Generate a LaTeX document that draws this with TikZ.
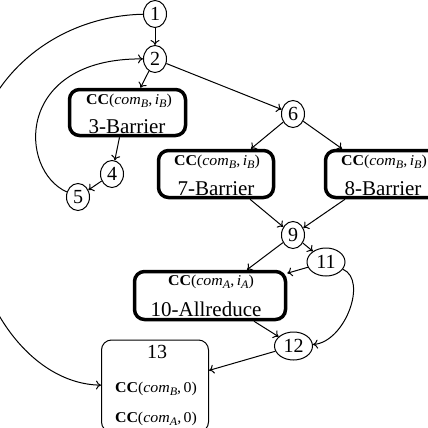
\documentclass[tikz,border=0pt]{standalone}
\usepackage{fontspec}
\setmainfont{Liberation Serif}
\newfontfamily\wideserif[FakeStretch=1.06]{Liberation Serif}
\usetikzlibrary{calc,shapes.geometric,arrows.meta}
\newcommand{\sbs}[1]{\raisebox{-0.45ex}{\fontsize{11.5}{12}\selectfont\textit{#1}}}
\newcommand{\ccsub}[2]{{\bfseries CC}(\textit{com}\sbs{#1},\,#2)}
\tikzset{
  state/.style={ellipse, draw, line width=1pt, inner sep=1pt, minimum width=23pt, minimum height=27pt, font=\fontsize{20}{20}\selectfont},
  wstate/.style={state, minimum width=38pt, minimum height=28pt},
  opbox/.style={draw, line width=3.5pt, rounded corners=10pt, inner sep=0pt},
  endbox/.style={draw, line width=1pt, rounded corners=10pt, inner sep=0pt},
  smalltxt/.style={anchor=base, inner sep=0pt, font=\wideserif\fontsize{15}{15}\selectfont},
  bigtxt/.style={anchor=base, inner sep=0pt, font=\fontsize{21}{21}\selectfont},
  numtxt/.style={anchor=base, inner sep=0pt, font=\fontsize{20}{20}\selectfont},
  conn/.style={-{To[length=5pt,width=9pt]}, line width=1pt},
}
\begin{document}
\begin{tikzpicture}[x=1pt,y=-1pt]
\useasboundingbox (0,0) rectangle (428,428);
\clip (0,0) rectangle (428,428);
% state nodes
\node[state] (n1) at (155,14) {1};
\node[state] (n2) at (155,59) {2};
\node[state] (n4) at (112,174) {4};
\node[state] (n5) at (78,197) {5};
\node[state] (n6) at (293,114) {6};
\node[state] (n9) at (293,235) {9};
\node[wstate] (n11) at (326,262) {11};
\node[wstate] (n12) at (293.5,346) {12};
% operation boxes
\node[opbox, minimum width=116pt, minimum height=46pt] (n3) at (127.5,112.5) {};
\node[opbox, minimum width=115pt, minimum height=47pt] (n7) at (216,174) {};
\node[opbox, minimum width=115pt, minimum height=47pt] (n8) at (383,174) {};
\node[opbox, minimum width=151pt, minimum height=48pt] (n10) at (210,295.5) {};
\node[endbox, minimum width=107pt, minimum height=92pt] (n13) at (155,386) {};
% box texts
\node[smalltxt] (t3a) at (129,104) {\ccsub{B}{\textit{i}\sbs{B}}};
\node[bigtxt] (t3b) at (127,133.5) {3-Barrier};
\node[smalltxt] (t7a) at (217,165) {\ccsub{B}{\textit{i}\sbs{B}}};
\node[bigtxt] (t7b) at (216,195) {7-Barrier};
\node[smalltxt] (t8a) at (384,165) {\ccsub{B}{\textit{i}\sbs{B}}};
\node[bigtxt] (t8b) at (383,195) {8-Barrier};
\node[smalltxt] (t10a) at (211,285.5) {\ccsub{A}{\textit{i}\sbs{A}}};
\node[bigtxt] (t10b) at (206,316) {10-Allreduce};
\node[numtxt] (t13a) at (157,358) {13};
\node[smalltxt] (t13b) at (156,392) {\ccsub{B}{0}};
\node[smalltxt] (t13c) at (156,422) {\ccsub{A}{0}};
% connectors
\draw[conn] (n1) -- (n2);
\draw[conn] (n2) -- ([xshift=13pt]n3.north);
\draw[conn] ([xshift=-8pt]n3.south) -- (n4);
\draw[conn] (n4) -- (n5);
\draw[conn] (n5) .. controls (18,170) and (15,58) .. (n2);
\draw[conn] (n2) -- (n6);
\draw[conn] (n6) -- ([xshift=35pt]n7.north);
\draw[conn] (n6) -- ([xshift=-41pt]n8.north);
\draw[conn] ([xshift=34pt]n7.south) -- (n9);
\draw[conn] ([xshift=-38pt]n8.south) -- (n9);
\draw[conn] (n9) -- ([xshift=37pt]n10.north);
\draw[conn] (n9) -- (n11);
\draw[conn] (n11) -- (n10);
\draw[conn] ([xshift=44pt]n10.south) -- (n12);
\draw[conn] (n11) .. controls (368,280) and (345,342) .. (n12);
\draw[conn] (n12) -- (n13);
\draw[conn] (n1) .. controls (55,16) and (-32,80) .. (-32,195)
  .. controls (-32,300) and (30,384) .. (n13);
\end{tikzpicture}
\end{document}
